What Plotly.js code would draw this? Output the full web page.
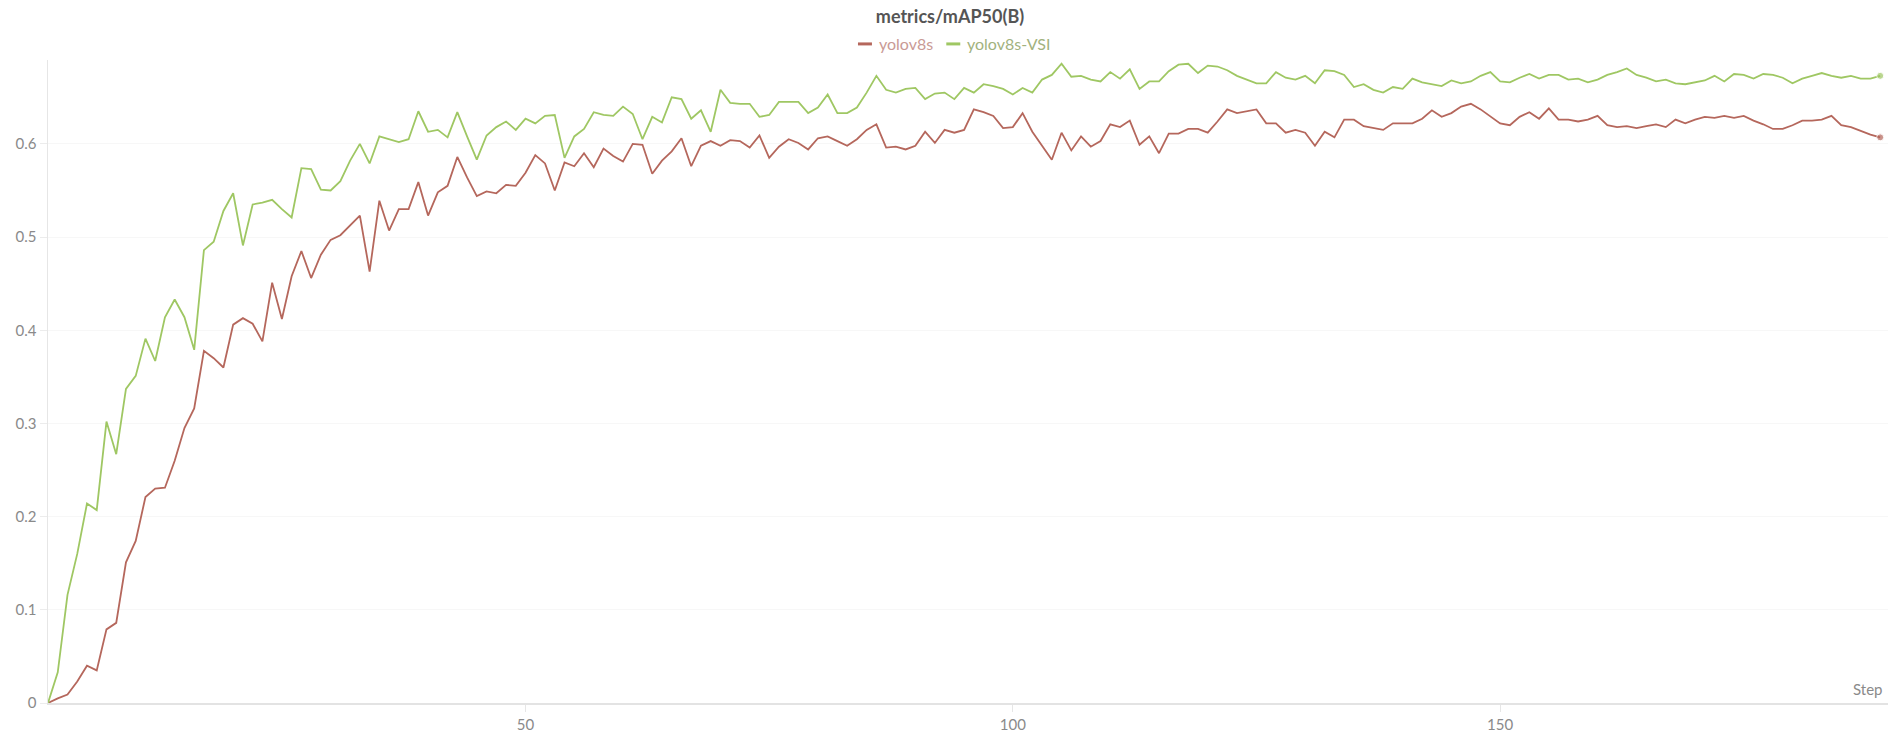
<!DOCTYPE html>
<html>
<head>
<meta charset="utf-8">
<script src="https://cdn.plot.ly/plotly-3.0.1.min.js"></script>
<style>
  html, body { margin: 0; padding: 0; background: #ffffff; }
  #chart { width: 1900px; height: 744px; }
</style>
</head>
<body>
<div id="chart"></div>
<script>
// Series values, one per step starting at step 1
const yolov8s = [
  0, 0.005, 0.009, 0.023, 0.040, 0.035, 0.079, 0.086, 0.151, 0.174,
  0.221, 0.230, 0.231, 0.260, 0.295, 0.316, 0.378, 0.370, 0.360, 0.406,
  0.413, 0.407, 0.388, 0.451, 0.412, 0.458, 0.485, 0.456, 0.481, 0.497,
  0.502, 0.512, 0.523, 0.463, 0.539, 0.507, 0.530, 0.530, 0.559, 0.523,
  0.548, 0.555, 0.586, 0.564, 0.544, 0.549, 0.547, 0.556, 0.555, 0.569,
  0.588, 0.579, 0.550, 0.580, 0.576, 0.590, 0.575, 0.595, 0.587, 0.581,
  0.600, 0.599, 0.568, 0.582, 0.592, 0.606, 0.576, 0.598, 0.603, 0.598,
  0.604, 0.603, 0.596, 0.609, 0.585, 0.597, 0.605, 0.601, 0.594, 0.606,
  0.608, 0.603, 0.598, 0.605, 0.615, 0.621, 0.596, 0.597, 0.594, 0.598,
  0.613, 0.601, 0.615, 0.612, 0.615, 0.637, 0.634, 0.630, 0.617, 0.618,
  0.633, 0.613, 0.598, 0.583, 0.612, 0.593, 0.608, 0.597, 0.603, 0.621,
  0.618, 0.625, 0.599, 0.608, 0.590, 0.611, 0.611, 0.616, 0.616, 0.612,
  0.624, 0.637, 0.633, 0.635, 0.637, 0.622, 0.622, 0.612, 0.615, 0.612,
  0.598, 0.613, 0.607, 0.626, 0.626, 0.619, 0.617, 0.615, 0.622, 0.622,
  0.622, 0.627, 0.636, 0.629, 0.633, 0.640, 0.643, 0.637, 0.629, 0.622,
  0.620, 0.629, 0.634, 0.627, 0.638, 0.626, 0.626, 0.624, 0.626, 0.630,
  0.620, 0.618, 0.619, 0.617, 0.619, 0.621, 0.618, 0.626, 0.622, 0.626,
  0.629, 0.628, 0.630, 0.628, 0.630, 0.625, 0.621, 0.616, 0.616, 0.620,
  0.625, 0.625, 0.626, 0.630, 0.620, 0.618, 0.614, 0.610, 0.607
];
const yolov8sVSI = [
  0, 0.033, 0.116, 0.160, 0.214, 0.207, 0.302, 0.267, 0.337, 0.351,
  0.391, 0.367, 0.414, 0.433, 0.414, 0.379, 0.486, 0.495, 0.528, 0.547,
  0.491, 0.535, 0.537, 0.540, 0.530, 0.521, 0.574, 0.573, 0.551, 0.550,
  0.560, 0.582, 0.600, 0.579, 0.608, 0.605, 0.602, 0.605, 0.635, 0.613,
  0.615, 0.607, 0.634, 0.608, 0.583, 0.609, 0.618, 0.624, 0.615, 0.627,
  0.622, 0.630, 0.631, 0.585, 0.608, 0.616, 0.634, 0.631, 0.630, 0.640,
  0.632, 0.605, 0.629, 0.623, 0.650, 0.648, 0.627, 0.636, 0.613, 0.658,
  0.644, 0.643, 0.643, 0.629, 0.631, 0.645, 0.645, 0.645, 0.633, 0.639,
  0.653, 0.633, 0.633, 0.639, 0.655, 0.673, 0.658, 0.655, 0.659, 0.660,
  0.648, 0.654, 0.655, 0.648, 0.660, 0.655, 0.664, 0.662, 0.659, 0.653,
  0.660, 0.655, 0.669, 0.674, 0.686, 0.672, 0.673, 0.669, 0.667, 0.677,
  0.670, 0.680, 0.659, 0.667, 0.667, 0.678, 0.685, 0.686, 0.676, 0.684,
  0.683, 0.679, 0.673, 0.669, 0.665, 0.665, 0.677, 0.671, 0.669, 0.673,
  0.665, 0.679, 0.678, 0.674, 0.661, 0.664, 0.658, 0.655, 0.661, 0.659,
  0.670, 0.666, 0.664, 0.662, 0.668, 0.665, 0.667, 0.673, 0.677, 0.667,
  0.666, 0.671, 0.675, 0.670, 0.674, 0.674, 0.669, 0.670, 0.666, 0.669,
  0.674, 0.677, 0.681, 0.674, 0.671, 0.667, 0.669, 0.665, 0.664, 0.666,
  0.668, 0.673, 0.667, 0.675, 0.674, 0.670, 0.675, 0.674, 0.671, 0.665,
  0.670, 0.673, 0.676, 0.673, 0.671, 0.673, 0.670, 0.670, 0.673
];
const steps = yolov8s.map((_, i) => i + 1);
const seriesNames = ['yolov8s', 'yolov8s-VSI'];
const xTickVals = [50, 100, 150];
const yTickVals = [0, 0.1, 0.2, 0.3, 0.4, 0.5, 0.6];
const yTickText = ['0', '0.1', '0.2', '0.3', '0.4', '0.5', '0.6'];

const redColor = '#b5675c';
const greenColor = '#9fc763';
const redText = '#c99a95';
const greenText = '#a2b27e';
const FONT = 'Lato, "Open Sans", "DejaVu Sans", sans-serif';

function endSizes(arr) { return arr.map((_, i) => i === arr.length - 1 ? 7 : 0); }

const traces = [
  {
    x: steps, y: yolov8s, name: seriesNames[0], type: 'scatter', mode: 'lines+markers',
    line: { color: redColor, width: 1.8 },
    marker: { color: redColor, size: endSizes(yolov8s) },
    showlegend: false
  },
  {
    x: steps, y: yolov8sVSI, name: seriesNames[1], type: 'scatter', mode: 'lines+markers',
    line: { color: greenColor, width: 1.8 },
    marker: { color: greenColor, size: endSizes(yolov8sVSI) },
    showlegend: false
  }
];

const legendY = 1.025;

const layout = {
  width: 1900, height: 744,
  margin: { l: 48, r: 12, t: 60, b: 41 },
  paper_bgcolor: '#ffffff', plot_bgcolor: '#ffffff',
  font: { family: FONT, color: '#8a8a8a', size: 15 },
  title: {
    text: 'metrics/mAP50(B)',
    font: { family: FONT, size: 18, color: '#555555', weight: 'bold' },
    x: 0.5, xanchor: 'center', y: 0.977, yanchor: 'middle'
  },
  xaxis: {
    range: [1, 189.8],
    tickvals: xTickVals,
    ticktext: xTickVals.map(String),
    showgrid: false, zeroline: false,
    showline: true, linecolor: '#e3e3e3', linewidth: 1.5,
    ticks: 'outside', ticklen: 7, tickcolor: '#e6e6e6',
    tickfont: { family: FONT, size: 15, color: '#8a8a8a' },
    fixedrange: true
  },
  yaxis: {
    range: [0, 0.69],
    tickvals: yTickVals,
    ticktext: yTickText,
    showgrid: true, gridcolor: '#f7f7f7', gridwidth: 1,
    zeroline: false,
    showline: true, linecolor: '#e6e6e6', linewidth: 1.5,
    ticks: 'outside', ticklen: 7, tickcolor: '#ececec',
    tickfont: { family: FONT, size: 15, color: '#8a8a8a' },
    fixedrange: true
  },
  shapes: [
    { type: 'line', xref: 'paper', yref: 'paper', x0: 0.4402, x1: 0.4478, y0: legendY, y1: legendY,
      line: { color: redColor, width: 3 } },
    { type: 'line', xref: 'paper', yref: 'paper', x0: 0.4882, x1: 0.4958, y0: legendY, y1: legendY,
      line: { color: greenColor, width: 3 } }
  ],
  annotations: [
    {
      xref: 'paper', yref: 'paper', x: 0.998, y: 0, xanchor: 'right', yanchor: 'bottom',
      yshift: 3, text: 'Step', showarrow: false,
      font: { family: FONT, size: 15, color: '#8a8a8a' }
    },
    {
      xref: 'paper', yref: 'paper', x: 0.4505, y: legendY, xanchor: 'left', yanchor: 'middle',
      showarrow: false, text: seriesNames[0],
      font: { family: FONT, size: 16, color: redText }
    },
    {
      xref: 'paper', yref: 'paper', x: 0.4985, y: legendY, xanchor: 'left', yanchor: 'middle',
      showarrow: false, text: seriesNames[1],
      font: { family: FONT, size: 16, color: greenText }
    }
  ]
};

Plotly.newPlot('chart', traces, layout, { displayModeBar: false, staticPlot: true });
</script>
</body>
</html>
